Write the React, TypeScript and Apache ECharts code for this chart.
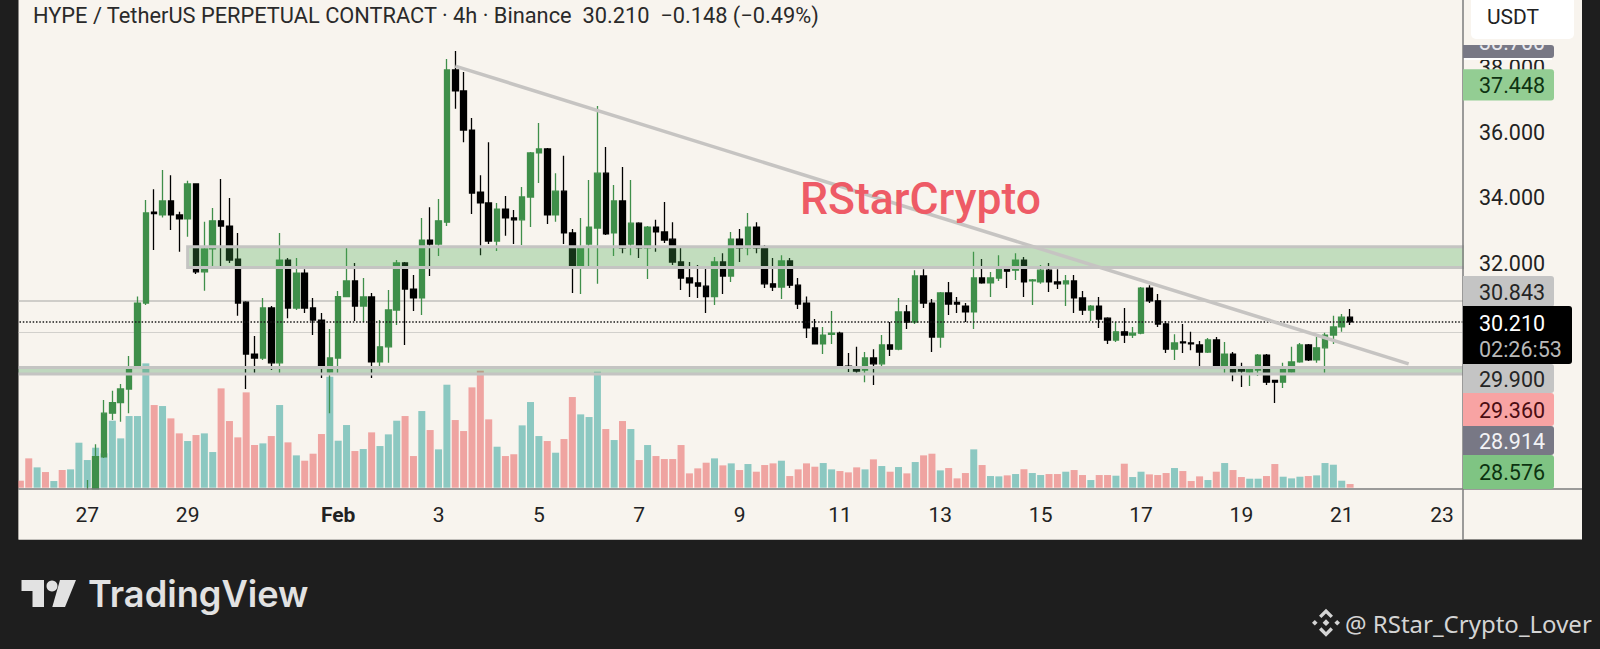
import React, { useEffect, useRef } from "react";
import * as echarts from "echarts";

const opens = [
  23.9,23.7,23.3,23.6,23.4,23.6,23.3,23.6,24.2,24.9,
  26.07,27.41,27.73,28.15,28.84,30.78,33.57,33.48,33.91,33.48,
  33.36,34.43,31.74,32.44,33.30,33.14,32.13,30.81,29.22,29.10,
  30.63,28.95,32.10,30.63,31.70,30.63,30.26,28.67,29.10,30.98,
  31.46,30.69,30.97,28.98,29.44,30.57,32.01,31.21,30.94,32.71,
  32.59,33.26,37.92,37.28,36.08,34.18,33.85,32.68,33.66,33.39,
  33.33,34.03,35.38,35.50,33.48,34.21,32.93,31.89,32.59,33.08,
  34.76,32.93,33.91,32.59,33.23,32.47,33.11,32.96,32.74,32.04,
  31.55,31.40,31.30,30.98,32.04,31.61,32.74,32.47,33.11,32.47,
  31.37,31.27,32.07,31.33,30.78,30.02,29.53,29.82,29.86,28.85,
  28.76,28.73,29.10,28.92,29.50,29.37,30.51,30.20,31.61,30.78,
  29.74,31.09,30.80,30.69,30.51,31.55,31.40,31.55,31.82,31.79,
  32.10,31.46,31.43,31.79,31.43,31.37,31.46,30.94,30.57,30.69,
  30.32,29.65,29.90,29.80,29.86,31.24,30.85,30.14,29.37,29.59,
  29.56,29.50,29.28,29.65,28.84,29.22,28.76,28.67,28.73,29.19,
  28.41,28.36,28.67,28.98,29.50,29.04,29.41,29.80,30.05,30.35,
];
const closes = [
  23.7,23.3,23.6,23.4,23.6,23.3,23.6,24.2,24.9,26.08,
  27.41,27.73,28.15,28.79,30.78,33.54,33.52,33.91,33.48,33.36,
  34.43,31.74,32.44,33.30,33.14,32.10,30.78,29.22,29.10,30.63,
  28.95,32.10,30.63,31.70,30.63,30.26,28.79,29.10,30.98,31.46,
  30.69,30.97,28.98,29.44,30.57,32.01,31.21,30.94,32.71,32.59,
  33.30,37.92,37.28,36.08,34.15,33.85,32.68,33.66,33.39,33.33,
  34.03,35.38,35.50,33.48,34.21,32.93,31.89,32.50,33.11,34.76,
  32.90,33.91,32.47,33.23,32.47,33.11,32.96,32.71,32.04,31.55,
  31.40,31.30,30.98,32.04,31.61,32.74,32.47,33.11,32.47,31.37,
  31.27,32.07,31.33,30.75,30.02,29.53,29.80,29.86,28.84,28.81,
  28.70,29.10,28.92,29.50,29.37,30.51,30.20,31.61,30.78,29.74,
  31.09,30.75,30.75,30.51,31.55,31.40,31.55,31.82,31.76,32.10,
  31.43,31.49,31.79,31.43,31.37,31.46,30.94,30.57,30.69,30.29,
  29.65,29.90,29.80,29.86,31.24,30.85,30.14,29.37,29.56,29.56,
  29.53,29.28,29.65,28.84,29.22,28.67,28.70,28.75,29.19,28.36,
  28.36,28.76,28.98,29.50,29.04,29.41,29.80,30.05,30.35,30.21,
];
const lows = [
  23.5,23.1,23.2,23.2,23.3,23.2,23.2,23.5,24.1,24.8,
  26.04,27.20,27.15,27.41,28.84,30.72,32.41,33.40,33.02,32.35,
  32.81,31.67,31.16,31.92,31.92,32.01,30.39,28.15,28.64,29.04,
  28.73,28.64,30.32,30.57,30.48,29.80,28.49,27.41,28.58,30.97,
  30.23,30.20,28.49,28.84,28.95,30.11,29.50,30.54,30.42,31.61,
  32.22,33.14,36.73,35.71,33.51,32.25,32.59,32.38,32.84,32.59,
  32.56,33.11,34.46,33.20,33.27,32.59,31.09,31.06,31.89,31.37,
  32.87,32.22,32.31,32.25,32.16,31.52,32.35,32.62,31.95,31.18,
  30.97,30.94,30.48,30.72,31.06,31.43,32.04,32.25,32.31,31.24,
  31.15,30.91,31.24,30.60,29.71,29.53,29.22,29.53,28.76,28.67,
  28.64,28.36,28.27,28.84,29.16,29.34,29.99,30.14,30.63,29.28,
  29.41,30.42,30.48,30.20,29.99,31.37,30.97,31.46,31.24,31.49,
  30.97,30.72,31.37,31.12,31.21,30.69,30.48,30.42,30.23,30.02,
  29.53,29.59,29.56,29.71,29.83,30.78,30.05,29.25,29.04,29.25,
  29.34,28.85,29.25,28.85,28.64,28.39,28.21,28.24,28.55,28.27,
  27.72,28.18,28.64,28.95,29.01,28.95,28.64,29.53,29.90,30.11,
];
const highs = [
  24.1,23.9,23.8,23.8,23.8,23.8,23.9,24.5,25.36,26.46,
  27.81,28.10,28.30,29.16,30.98,33.94,34.27,34.86,34.70,33.58,
  34.53,34.45,33.27,33.69,34.58,34.00,32.93,30.84,29.77,30.94,
  30.69,32.93,32.16,32.16,31.82,30.94,30.48,29.99,31.15,32.50,
  32.01,31.55,31.09,30.26,31.18,32.10,32.04,31.64,33.39,33.72,
  33.97,38.26,38.50,37.86,36.45,34.70,35.71,33.85,34.06,33.63,
  34.34,35.41,36.30,35.53,34.76,35.29,33.05,33.39,34.55,36.82,
  35.56,34.40,34.95,34.55,33.26,33.14,33.33,33.88,33.26,32.50,
  32.04,31.95,31.86,32.19,32.31,32.96,33.05,33.54,33.26,32.56,
  32.16,32.25,32.16,31.55,30.98,30.29,30.05,30.54,29.90,29.25,
  29.44,29.28,29.37,29.80,30.20,30.94,30.72,31.79,31.82,30.91,
  31.12,31.43,30.97,30.78,32.35,32.13,31.73,32.25,31.85,32.31,
  32.19,31.52,31.95,32.01,31.82,31.64,31.64,31.15,30.72,30.97,
  30.35,30.20,30.63,30.05,31.27,31.33,31.06,30.23,29.83,30.14,
  29.90,29.62,29.71,29.74,29.59,29.28,28.95,28.76,29.22,29.22,
  28.42,28.95,29.44,29.56,29.53,29.74,29.87,30.39,30.45,30.60,
];
const volumes = [
  21,88,61,47,20,53,55,135,83,120,
  103,201,148,215,215,373,248,245,208,163,
  140,158,163,107,298,200,151,286,128,133,
  155,248,136,97,81,102,161,333,141,188,
  110,116,166,125,160,201,215,95,230,173,
  115,309,203,170,301,351,205,123,95,100,
  187,257,155,140,105,146,272,220,212,348,
  176,143,200,176,83,128,95,86,86,128,
  43,58,75,88,67,73,53,71,48,68,
  73,81,35,55,73,63,74,55,50,46,
  61,55,85,65,48,62,43,77,97,102,
  52,59,28,44,115,68,35,34,37,41,
  55,44,38,41,41,48,53,38,23,38,
  38,36,72,32,48,40,38,44,59,50,
  20,34,23,48,74,53,32,27,27,35,
  71,33,28,33,35,37,74,69,21,11,
];

const SLOT_COUNT = 173;
const dateLabels: Record<number, string> = {
  8: "27", 20: "29", 38: "Feb", 50: "3", 62: "5", 74: "7", 86: "9", 98: "11",
  110: "13", 122: "15", 134: "17", 146: "19", 158: "21", 170: "23",
};
const categories = Array.from({ length: SLOT_COUNT }, (_, i) => dateLabels[i] ?? `c${i}`);
const priceTicks = [32, 34, 36, 38];
const resistanceZone = { fromIndex: 20, top: 32.51, bottom: 31.87 };
const supportZone = { fromIndex: 0, top: 28.81, bottom: 28.61 };
const trendStart = { index: 52, price: 38.04 };
const trendEnd = { index: 166, price: 28.92 };
const upperLevel = 30.843;
const lowerLevel = 29.9;
const lastPrice = 30.21;
const HEADER = "HYPE / TetherUS PERPETUAL CONTRACT · 4h · Binance  30.210  −0.148 (−0.49%)";

const BG = "#f8f4ee";
const DARK = "#1e1e1e";
const GREEN = "#3f8f4a";
const BLACK = "#000000";
const TEAL = "#8cc8c1";
const SALMON = "#efa4a1";
const FONT = "Roboto";

function tag(y: number, h: number, fill: string, right = 1554) {
  return { type: "rect", z: 60, shape: { x: 1463, y, width: right - 1463, height: h, r: [0, 3, 3, 0] }, style: { fill } };
}
function tagText(text: string, y: number, fill: string, z = 61) {
  return { type: "text", z, x: 1479, y, style: { text, fill, font: `21.5px ${FONT}`, verticalAlign: "middle", align: "left" } };
}
function binance(cx: number, cy: number, fill: string) {
  const shapes = [
    [[0,-14],[7,-7],[4.6,-4.6],[0,-9.2],[-4.6,-4.6],[-7,-7]],
    [[0,14],[7,7],[4.6,4.6],[0,9.2],[-4.6,4.6],[-7,7]],
    [[-14,0],[-11.2,-2.8],[-8.4,0],[-11.2,2.8]],
    [[14,0],[11.2,-2.8],[8.4,0],[11.2,2.8]],
    [[0,-3.4],[3.4,0],[0,3.4],[-3.4,0]],
  ];
  return shapes.map((p) => ({
    type: "polygon", z: 60,
    shape: { points: p.map(([a, b]) => [cx + a, cy + b]) },
    style: { fill },
  }));
}

function zoneItem(color: string) {
  return (params: any, api: any) => {
    const from = api.coord([api.value(0), api.value(1)]);
    const to = api.coord([api.value(0), api.value(2)]);
    const cs = params.coordSys;
    const left = api.value(0) === 0 ? cs.x - 10 : from[0];
    return {
      type: "rect",
      shape: { x: left, y: from[1], width: cs.x + cs.width + 10 - left, height: to[1] - from[1] },
      style: { fill: color, stroke: "#c4c4c2", lineWidth: 3 },
    };
  };
}

export default function App() {
  const ref = useRef<HTMLDivElement>(null);
  useEffect(() => {
    document.body.style.margin = "0";
    document.body.style.background = DARK;
    const chart = echarts.init(ref.current!, undefined, { renderer: "svg" });
    const candles = opens.map((o, i) => [o, closes[i], lows[i], highs[i]]);
    const volumeData = volumes.map((v, i) => ({
      value: v,
      itemStyle: { color: closes[i] >= opens[i] ? TEAL : SALMON },
    }));
    const trend = categories.map((_, i) =>
      i === trendStart.index ? trendStart.price : i === trendEnd.index ? trendEnd.price : null
    );
    const hLine = (value: number, lineStyle: any, z: number) => ({
      type: "line", xAxisIndex: 0, yAxisIndex: 0, data: [], z, silent: true,
      markLine: { silent: true, symbol: "none", z, label: { show: false }, data: [{ yAxis: value }], lineStyle },
    });
    chart.setOption({
      animation: false,
      backgroundColor: "transparent",
      grid: [
        { left: 16.2, top: 0, width: 1446.8, height: 489 },
        { left: 16.2, top: 287.7, width: 1446.8, height: 200 },
      ],
      xAxis: [
        {
          type: "category", gridIndex: 0, data: categories, boundaryGap: true, z: 20,
          axisLine: { show: false }, axisTick: { show: false }, splitLine: { show: false },
          axisLabel: {
            show: true, margin: 15, color: "#222", fontFamily: FONT, fontSize: 21,
            interval: (i: number) => dateLabels[i] !== undefined,
            formatter: (v: string) => (v === "Feb" ? "{b|Feb}" : v),
            rich: { b: { fontWeight: "bold", fontSize: 21, fontFamily: FONT, color: "#222" } },
          },
        },
        { type: "category", gridIndex: 1, data: categories, show: false },
      ],
      yAxis: [
        {
          type: "value", gridIndex: 0, position: "right", min: 25.087, max: 40.064, scale: true,
          axisLine: { show: false }, axisTick: { show: false }, splitLine: { show: false },
          axisLabel: {
            show: true, customValues: priceTicks, margin: 16, color: "#222",
            fontFamily: FONT, fontSize: 21.5,
            formatter: (v: number) => v.toFixed(3),
          },
        },
        { type: "value", gridIndex: 1, min: 0, max: 600, show: false },
      ],
      series: [
        { type: "bar", xAxisIndex: 1, yAxisIndex: 1, data: volumeData, barWidth: 7, z: 1, silent: true },
        hLine(upperLevel, { color: "#cfcdc9", width: 1.8, type: "solid" }, 2),
        hLine(lowerLevel, { color: "#d2d0cc", width: 1.2, type: "solid" }, 2),
        {
          type: "candlestick", xAxisIndex: 0, yAxisIndex: 0, data: candles, barWidth: 6, z: 3, silent: true,
          itemStyle: { color: GREEN, color0: BLACK, borderColor: GREEN, borderColor0: BLACK, borderWidth: 1.3 },
        },
        hLine(lastPrice, { color: "#1a1a1a", width: 1.5, type: [1.5, 1.8] }, 4),
        {
          type: "custom", xAxisIndex: 0, yAxisIndex: 0, z: 6, silent: true, clip: true,
          data: [[resistanceZone.fromIndex, resistanceZone.top, resistanceZone.bottom]],
          renderItem: zoneItem("rgba(70,170,80,0.3)"),
        },
        {
          type: "custom", xAxisIndex: 0, yAxisIndex: 0, z: 6, silent: true, clip: true,
          data: [[supportZone.fromIndex, supportZone.top, supportZone.bottom]],
          renderItem: zoneItem("rgba(60,150,80,0.3)"),
        },
        {
          type: "line", xAxisIndex: 0, yAxisIndex: 0, data: trend, connectNulls: true, symbol: "none", z: 7, silent: true,
          lineStyle: { color: "#c6c4c2", width: 3.5 },
        },
      ],
      graphic: [
        { type: "rect", z: -10, shape: { x: 18.3, y: 0, width: 1563.7, height: 539.5 }, style: { fill: BG } },
        { type: "rect", z: 4, shape: { x: 18.3, y: 489.5, width: 1444, height: 50 }, style: { fill: BG } },
        { type: "rect", z: 50, shape: { x: 0, y: 0, width: 18.3, height: 649 }, style: { fill: DARK } },
        { type: "line", z: 55, shape: { x1: 1463, y1: 0, x2: 1463, y2: 539.5 }, style: { stroke: "#7c7c7c", lineWidth: 1.5 } },
        { type: "line", z: 55, shape: { x1: 18.3, y1: 489, x2: 1582, y2: 489 }, style: { stroke: "#7c7c7c", lineWidth: 1.5 } },
        tag(45, 13, "#787885"),
        tagText("38.700", 42.5, "#e8e8ee"),
        { type: "rect", z: 62, shape: { x: 1464, y: 37, width: 118, height: 8 }, style: { fill: BG } },
        { type: "rect", z: 60, shape: { x: 1464, y: 58, width: 88, height: 2 }, style: { fill: "#ffffff" } },
        { type: "rect", z: 63, shape: { x: 1471, y: -4, width: 103, height: 43, r: 5 }, style: { fill: "#ffffff" } },
        { type: "text", z: 64, x: 1513, y: 16.7, style: { text: "USDT", fill: "#222", font: `21px ${FONT}`, align: "center", verticalAlign: "middle" } },
        tag(69.3, 31.2, "#93cd93"),
        tagText("37.448", 85, "#0e3312"),
        tag(276, 31, "#c4c4c4"),
        tagText("30.843", 292.4, "#252525"),
        tag(364, 29, "#c4c4c4"),
        tagText("29.900", 379, "#252525"),
        tag(393, 33, "#f8a3a3"),
        tagText("29.360", 410, "#4a0d12"),
        tag(426, 29, "#787885"),
        tagText("28.914", 441, "#f2f2f5"),
        tag(455, 34, "#7fc483"),
        tagText("28.576", 472, "#0c3310"),
        { type: "rect", z: 65, shape: { x: 1463, y: 306, width: 109, height: 58, r: [0, 3, 3, 0] }, style: { fill: "#000000" } },
        tagText("30.210", 323, "#ffffff", 66),
        tagText("02:26:53", 349, "#b9b9b9", 66),
        { type: "text", z: 60, x: 33, y: 15.5, style: { text: HEADER, fill: "#2a2a2a", font: `21.8px ${FONT}`, verticalAlign: "middle" } },
        { type: "text", z: 60, x: 800, y: 199, style: { text: "RStarCrypto", fill: "#ee5b66", font: `500 44.5px ${FONT}`, verticalAlign: "middle" } },
        { type: "polygon", z: 60, shape: { points: [[21.5,580],[44,580],[44,607],[32.5,607],[32.5,591],[21.5,591]] }, style: { fill: "#e2e2e2" } },
        { type: "circle", z: 60, shape: { cx: 52, cy: 586, r: 5.5 }, style: { fill: "#e2e2e2" } },
        { type: "polygon", z: 60, shape: { points: [[60,580],[76,580],[65,607],[52.3,607]] }, style: { fill: "#e2e2e2" } },
        { type: "text", z: 60, x: 88, y: 594, style: { text: "TradingView", fill: "#e2e2e2", font: `600 36.2px Inter`, verticalAlign: "middle" } },
        ...binance(1326, 622.7, "#d4d4d4"),
        { type: "text", z: 60, x: 1345, y: 623, style: { text: "@ RStar_Crypto_Lover", fill: "#d4d4d4", font: `24px 'Noto Sans'`, verticalAlign: "middle" } },
      ],
    });
    return () => chart.dispose();
  }, []);
  return <div ref={ref} style={{ width: 1600, height: 649, background: DARK }} />;
}
